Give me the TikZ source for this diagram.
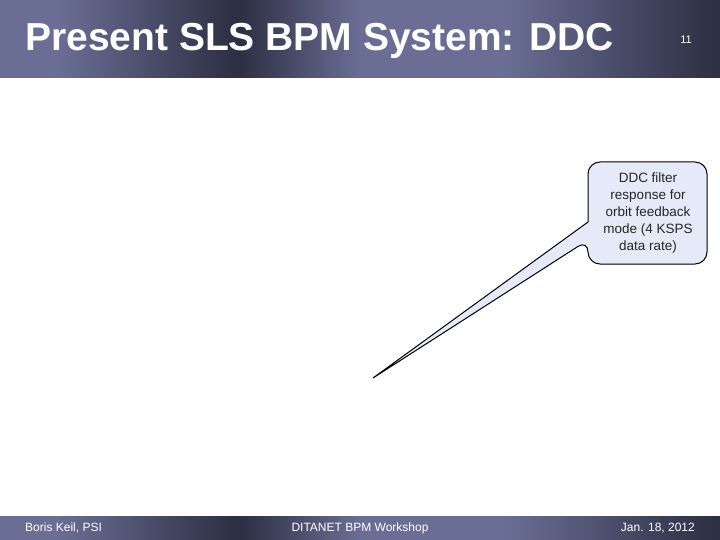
\documentclass[tikz,border=0pt]{standalone}
\usepackage{fontspec}
\setmainfont{Liberation Sans}
\definecolor{gl}{HTML}{6A6E94}
\definecolor{gd}{HTML}{2C2E42}
\definecolor{bfill}{HTML}{E6EAF8}
\pgfdeclarehorizontalshading{band}{100bp}{color(0bp)=(gl); color(29bp)=(gl); color(41.5bp)=(gd); color(50bp)=(gl); color(60bp)=(gl); color(75bp)=(gd); color(100bp)=(gd)}
\begin{document}
\begin{tikzpicture}[x=1pt,y=-1pt,
  hdr/.style={text=white,anchor=west,inner sep=0pt},
  ftr/.style={text=white,inner sep=0pt,font=\fontsize{12}{13}\selectfont}]
\useasboundingbox (0,0) rectangle (720,540);
\fill[white] (0,0) rectangle (720,540);
\shade[shading=band] (0,0) rectangle (720,78);
\shade[shading=band] (0,516) rectangle (720,540);
\node[hdr,font=\bfseries\fontsize{39}{42}\selectfont] (title) at (25,41) {Present SLS BPM System: DDC};
\node[hdr,font=\fontsize{11}{12}\selectfont,anchor=center] (num) at (686,40) {11};
\node[ftr,anchor=west] (f1) at (25,528) {Boris Keil, PSI};
\node[ftr] (f2) at (360,528) {DITANET BPM Workshop};
\node[ftr,anchor=east] (f3) at (695,528) {Jan. 18, 2012};
\coordinate (tip) at (373,378);
\draw[line width=1pt,fill=bfill,rounded corners=12pt]
  (648,162) -- (707,162) -- (707,264) -- (588,264) -- (588,240)
  [sharp corners] -- (tip) -- (588,222) [rounded corners=12pt] -- (588,162) -- cycle;
\node[align=center,font=\fontsize{13.5}{17}\selectfont,text=black!85,inner sep=0pt] (call) at (648,213)
 {DDC filter\\response for\\orbit feedback\\mode (4 KSPS\\data rate)};
\end{tikzpicture}
\end{document}
